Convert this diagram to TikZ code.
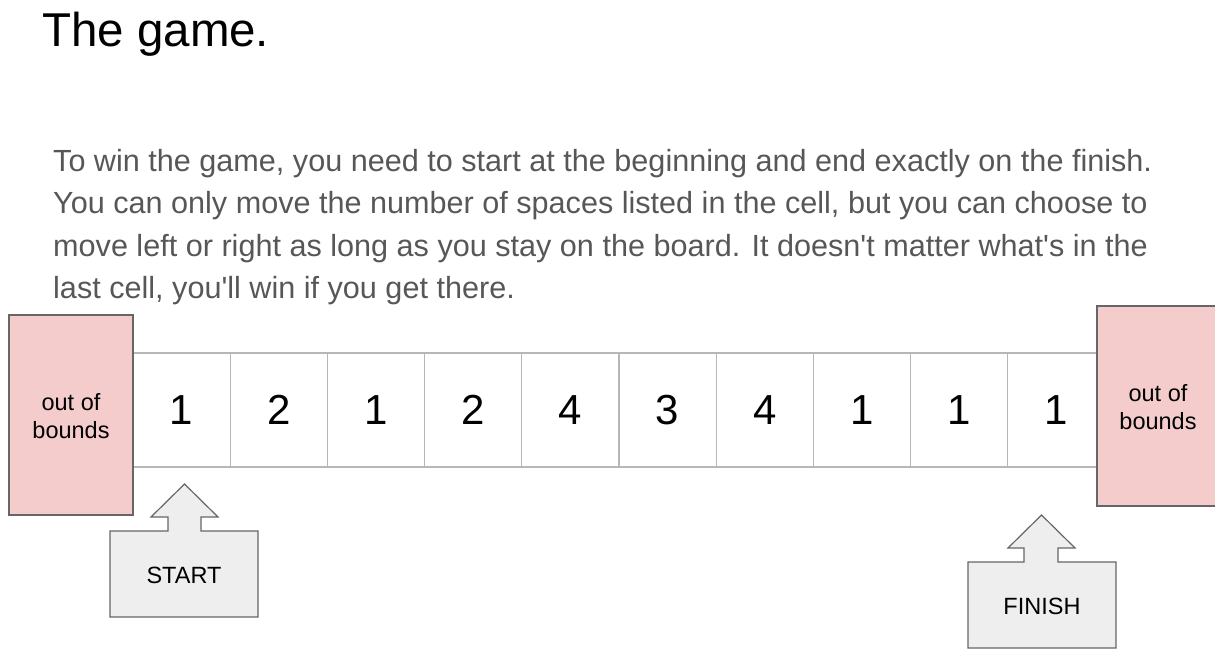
\documentclass[tikz,border=0pt]{standalone}
\usepackage{fontspec}
\setmainfont{Liberation Sans}
\definecolor{oobfill}{HTML}{F4CCCC}
\definecolor{calfill}{HTML}{EEEEEE}
\definecolor{edge}{HTML}{666666}
\definecolor{cellline}{HTML}{B7B7B7}
\definecolor{para}{HTML}{575757}
\tikzset{
  cellbox/.style={draw=cellline, line width=1.2pt, minimum width=97.2pt, minimum height=114pt, inner sep=0pt, font=\fontsize{42}{48}\selectfont},
  oob/.style={draw=edge, fill=oobfill, line width=1.2pt, inner sep=0pt},
  oobtext/.style={align=center, font=\fontsize{23.5}{28}\selectfont, inner sep=0pt},
  callout/.style={draw=edge, fill=calfill, line width=1.2pt, line join=miter},
  calltext/.style={font=\fontsize{23.5}{28}\selectfont, inner sep=0pt},
  paraline/.style={anchor=base west, inner sep=0pt, text=para, font=\fontsize{30.6}{36}\selectfont},
}
\begin{document}
\begin{tikzpicture}[x=1pt,y=-1pt]
\useasboundingbox (0,0) rectangle (1215,655);
\clip (0,0) rectangle (1215,655);
\node[anchor=base west, inner sep=0pt, font=\fontsize{47.5}{56}\selectfont] (title) at (42,47) {The game.};
\node[paraline] (l1) at (53,172) {To win the game, you need to start at the beginning and end exactly on the finish.};
\node[paraline] (l2) at (53,214) {You can only move the number of spaces listed in the cell, but you can choose to};
\node[paraline] (l3) at (53,256) {move left or right as long as you stay on the board. It doesn\textquotesingle t matter what\textquotesingle s in the};
\node[paraline] (l4) at (53,298) {last cell, you\textquotesingle ll win if you get there.};
\foreach \v [count=\i from 0] in {1,2,1,2,4,3,4,1,1,1}{
  \node[cellbox] (c\i) at ({181.6+97.2*\i},410) {\v};
}
\path[oob] (9,315) rectangle (133,515);
\node[oobtext] (oobl) at (71,416) {out of\\bounds};
\path[oob] (1097,306) rectangle (1230,506);
\node[oobtext] (oobr) at (1158,407) {out of\\bounds};
\path[callout] (110,531) -- (168,531) -- (168,517) -- (151,517) -- (184.5,484) -- (218,517) -- (201,517) -- (201,531) -- (258,531) -- (258,617) -- (110,617) -- cycle;
\node[calltext] (start) at (184,575) {START};
\path[callout] (968,562) -- (1024,562) -- (1024,548) -- (1008,548) -- (1041.5,515) -- (1075,548) -- (1058,548) -- (1058,562) -- (1116,562) -- (1116,648) -- (968,648) -- cycle;
\node[calltext] (finish) at (1042,606) {FINISH};
\end{tikzpicture}
\end{document}
